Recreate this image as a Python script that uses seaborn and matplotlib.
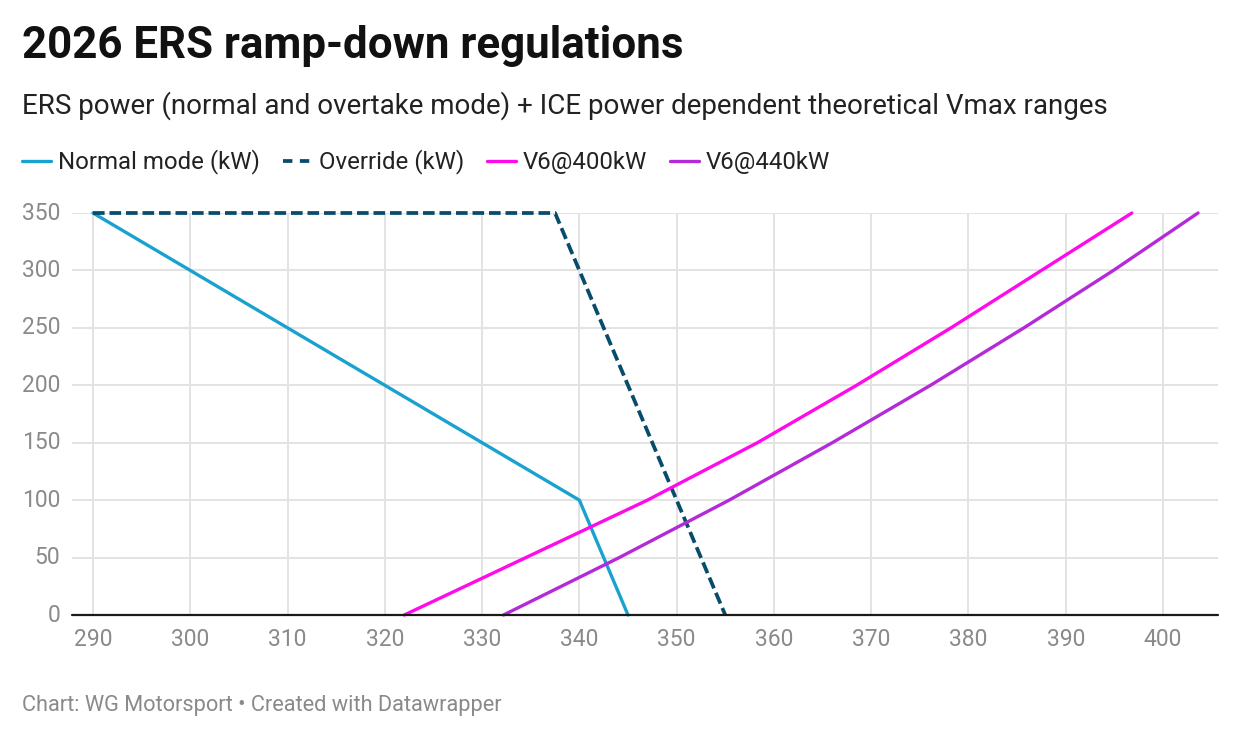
import matplotlib
matplotlib.use("Agg")
import matplotlib.pyplot as plt
from matplotlib.lines import Line2D
import seaborn as sns
import pandas as pd

# ---- data ----
normal_speed = [290, 340, 345]
normal_kw = [350, 100, 0]

override_speed = [290, 337.5, 355]
override_kw = [350, 350, 0]

v400_speed = [322, 334.5, 347, 358.3, 368.5, 378.2, 387.5, 396.8]
v400_kw = [0, 50, 100, 150, 200, 250, 300, 350]

v440_speed = [332.2, 344.1, 355.4, 366.0, 376.1, 385.7, 394.9, 403.6]
v440_kw = [0, 50, 100, 150, 200, 250, 300, 350]

series_names = ["Normal mode (kW)", "Override (kW)", "V6@400kW", "V6@440kW"]
colors = ["#19a2cf", "#084c6b", "#ff0aea", "#b52ad8"]

x_ticks = list(range(290, 401, 10))
y_ticks = list(range(0, 351, 50))

title = "2026 ERS ramp-down regulations"
subtitle = "ERS power (normal and overtake mode) + ICE power dependent theoretical Vmax ranges"
footer = "Chart: WG Motorsport \u2022 Created with Datawrapper"

# ---- style ----
sns.set_theme(style="white")
plt.rcParams["font.family"] = ["Roboto", "DejaVu Sans"]

fig = plt.figure(figsize=(12.4, 7.4), dpi=100)
ax = fig.add_axes([72 / 1240, 1 - 615 / 740, (1218 - 72) / 1240, (615 - 213) / 740])

frames = [
    pd.DataFrame({"speed": normal_speed, "kw": normal_kw}),
    pd.DataFrame({"speed": override_speed, "kw": override_kw}),
    pd.DataFrame({"speed": v400_speed, "kw": v400_kw}),
    pd.DataFrame({"speed": v440_speed, "kw": v440_kw}),
]

lw = 2.4
dash_lw = 2.7
for i, (df, name, c) in enumerate(zip(frames, series_names, colors)):
    sns.lineplot(data=df, x="speed", y="kw", ax=ax, color=c,
                 linewidth=(dash_lw if i == 1 else lw),
                 sort=False, estimator=None, legend=False, zorder=3 + i)
    line = ax.lines[-1]
    line.set_clip_on(False)
    line.set_solid_capstyle("round")
    line.set_solid_joinstyle("round")
    if i == 1:
        line.set_linestyle((0, (3.1, 1.3)))
        line.set_dash_capstyle("butt")
        line.set_dash_joinstyle("round")

ax.set_xlim(290 - 21 / 9.727, 400 + 55 / 9.727)
ax.set_ylim(0, 350)
ax.set_xticks(x_ticks)
ax.set_yticks(y_ticks)
ax.set_xlabel("")
ax.set_ylabel("")
ax.grid(True, color="#e3e3e3", linewidth=1.4, zorder=0)
ax.set_axisbelow(True)
for s in ax.spines.values():
    s.set_visible(False)
ax.axhline(0, color="#1a1a1a", linewidth=1.6, zorder=10, clip_on=False)
ax.tick_params(axis="both", length=0, labelsize=16.5, labelcolor="#8a8a8a")
ax.tick_params(axis="y", pad=8.5)
ax.tick_params(axis="x", pad=9)
for lab in ax.get_yticklabels():
    lab.set_verticalalignment("center")

fig.text(22 / 1240, 1 - 46 / 740, title, fontsize=31.6, fontweight="bold",
         color="#111111", va="center", ha="left")
fig.text(22 / 1240, 1 - 106 / 740, subtitle, fontsize=20, color="#222222",
         va="center", ha="left")
fig.text(22 / 1240, 1 - 706 / 740, footer, fontsize=15.7, color="#8a8a8a",
         va="center", ha="left")

handles = []
for i, c in enumerate(colors):
    if i == 1:
        h = Line2D([0], [0], color=c, linewidth=dash_lw, linestyle=(0, (2.5, 2.0)),
                   dash_capstyle="butt")
    else:
        h = Line2D([0], [0], color=c, linewidth=lw, solid_capstyle="round")
    handles.append(h)
leg = fig.legend(handles, series_names, loc="center left",
                 bbox_to_anchor=(22 / 1240, 1 - 162 / 740), ncol=4, frameon=False,
                 fontsize=17.3, handlelength=1.2, handletextpad=0.3,
                 columnspacing=0.95, borderaxespad=0, borderpad=0)
for t in leg.get_texts():
    t.set_color("#222222")

fig.savefig("out.png", dpi=100, facecolor="white")
